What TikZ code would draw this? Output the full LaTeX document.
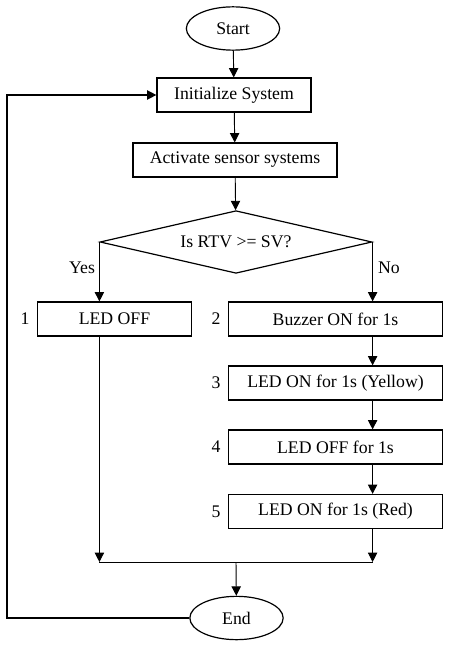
\documentclass[tikz,border=0pt]{standalone}
\usepackage{fontspec}
\setmainfont{Liberation Serif}
\usetikzlibrary{arrows.meta,shapes.geometric}

\begin{document}
\begin{tikzpicture}[x=0.75pt,y=-0.75pt,
    font=\fontsize{13.3}{15}\selectfont,
    every path/.style={line width=0.7pt},
    stepbox/.style={draw, line width=0.9pt, minimum height=25.5pt, inner sep=0pt},
    terminal/.style={draw, ellipse, line width=0.9pt, minimum width=70pt, minimum height=32.5pt, inner sep=0pt},
    decision/.style={draw, diamond, aspect=4.3, line width=0.9pt, minimum width=204pt, minimum height=47pt, inner sep=0pt},
    flow/.style={-{Triangle[length=7pt,width=7pt]}}]

    \useasboundingbox (0,0) rectangle (451,645);

    % nodes
    \node[terminal] (start) at (233,28.5) {Start};
    \node[stepbox, minimum width=115.5pt] (init) at (234,95) {Initialize System};
    \node[stepbox, minimum width=153pt] (sense) at (235,160) {Activate sensor systems};
    \node[decision] (dec) at (236,242) {Is RTV >= SV?};

    \node[stepbox, minimum width=116pt] (ledoff) at (114.5,319) {LED OFF};
    \node[stepbox, minimum width=161pt] (buzzer) at (335.5,319) {Buzzer ON for 1s};
    \node[stepbox, minimum width=161pt] (yellow) at (335.5,383) {LED ON for 1s (Yellow)};
    \node[stepbox, minimum width=161pt] (pause) at (335.5,447) {LED OFF for 1s};
    \node[stepbox, minimum width=161pt] (red) at (335.5,511.5) {LED ON for 1s (Red)};

    \node[terminal] (end) at (236.5,618) {End};

    % labels
    \node (yes) at (82,268) {Yes};
    \node (no) at (389,268) {No};
    \node (n1) at (25,319) {1};
    \node (n2) at (216,319) {2};
    \node (n3) at (216,383) {3};
    \node (n4) at (216,447) {4};
    \node (n5) at (216,511.5) {5};

    \coordinate (join) at (236,562);
    \coordinate (loop) at (7,95);

    % connectors
    \draw[flow] (start) -- (init);
    \draw[flow] (init) -- (sense);
    \draw[flow] (sense) -- (dec);
    \draw[flow] (dec.west) -- (ledoff.north -| dec.west);
    \draw[flow] (dec.east) -- (buzzer.north -| dec.east);
    \draw[flow] (buzzer.south -| dec.east) -- (yellow.north -| dec.east);
    \draw[flow] (yellow.south -| dec.east) -- (pause.north -| dec.east);
    \draw[flow] (pause.south -| dec.east) -- (red.north -| dec.east);

    \draw[flow] (ledoff.south -| dec.west) -- (join -| dec.west);
    \draw[flow] (red.south -| dec.east) -- (join -| dec.east);
    \draw (join -| dec.west) -- (join -| dec.east);
    \draw[flow] (join) -- (end);

    \draw[flow, line width=1pt] (end.west) -- (end.west -| loop) -- (loop) -- (init.west);

\end{tikzpicture}
\end{document}
